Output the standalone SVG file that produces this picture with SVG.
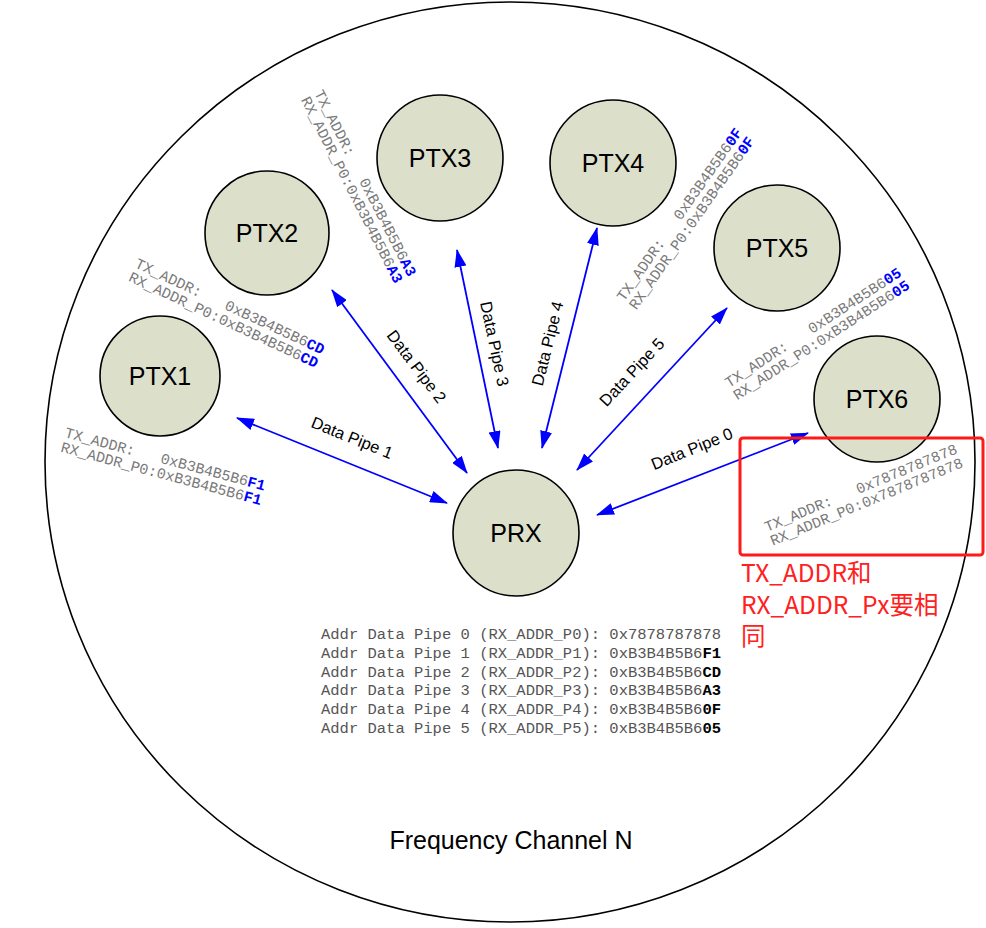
<svg xmlns="http://www.w3.org/2000/svg" width="986" height="928" viewBox="0 0 986 928">
<defs>
<style>
.node{fill:#dcdfca;stroke:#000;stroke-width:1.6}
.nl{font-family:"Liberation Sans",Arial,sans-serif;font-size:25px;text-anchor:middle;fill:#000}
.conn{stroke:#0000ff;stroke-width:1.8;fill:none;marker-start:url(#ah);marker-end:url(#ah)}
.pl{font-family:"Liberation Sans",Arial,sans-serif;font-size:16.5px;text-anchor:middle;fill:#000}
.ad{font-family:"Liberation Mono","Courier New",monospace;font-size:15px;fill:#7a7a7a}
.bl{fill:#0000ff;font-weight:bold}
.tb{font-family:"Liberation Mono","Courier New",monospace;font-size:15.5px;fill:#555}
.bk{fill:#000;font-weight:bold}
</style>
<marker id="ah" viewBox="0 0 18 12" refX="17" refY="6" markerWidth="18" markerHeight="12" markerUnits="userSpaceOnUse" orient="auto-start-reverse">
<path d="M0,0 L18,6 L0,12 z" fill="#0000ff"/>
</marker>
</defs>
<rect width="986" height="928" fill="#fff"/>
<ellipse cx="510" cy="462" rx="465" ry="460" fill="none" stroke="#000" stroke-width="1.6"/>
<g id="connectors">
<line class="conn" x1="237" y1="418" x2="447" y2="503"/>
<line class="conn" x1="332" y1="290" x2="467" y2="473"/>
<line class="conn" x1="457" y1="250" x2="498" y2="448"/>
<line class="conn" x1="597" y1="228" x2="542" y2="448"/>
<line class="conn" x1="727" y1="308" x2="577" y2="470"/>
<line class="conn" x1="808" y1="433" x2="597" y2="515"/>
<text class="pl" transform="translate(350,443) rotate(22)">Data Pipe 1</text>
<text class="pl" transform="translate(412,370) rotate(53)">Data Pipe 2</text>
<text class="pl" transform="translate(489,345) rotate(78)">Data Pipe 3</text>
<text class="pl" transform="translate(553,345) rotate(-76)">Data Pipe 4</text>
<text class="pl" transform="translate(636,376) rotate(-47)">Data Pipe 5</text>
<text class="pl" transform="translate(694,454) rotate(-22)">Data Pipe 0</text>
</g>
<g id="ptx1"><circle class="node" cx="160" cy="376" r="60"/><text class="nl" x="160" y="385">PTX1</text>
<text class="ad" xml:space="preserve" transform="translate(64,437) rotate(15)"><tspan x="0" y="0">TX_ADDR:   0xB3B4B5B6<tspan class="bl">F1</tspan></tspan><tspan x="0" y="15">RX_ADDR_P0:0xB3B4B5B6<tspan class="bl">F1</tspan></tspan></text></g>
<g id="ptx2"><circle class="node" cx="267" cy="233" r="62"/><text class="nl" x="267" y="242">PTX2</text>
<text class="ad" xml:space="preserve" transform="translate(134,267) rotate(25)"><tspan x="0" y="0">TX_ADDR:   0xB3B4B5B6<tspan class="bl">CD</tspan></tspan><tspan x="0" y="15">RX_ADDR_P0:0xB3B4B5B6<tspan class="bl">CD</tspan></tspan></text></g>
<g id="ptx3"><circle class="node" cx="440" cy="158" r="63"/><text class="nl" x="440" y="167">PTX3</text>
<text class="ad" xml:space="preserve" transform="translate(314,93) rotate(63)"><tspan x="0" y="0">TX_ADDR:   0xB3B4B5B6<tspan class="bl">A3</tspan></tspan><tspan x="0" y="15">RX_ADDR_P0:0xB3B4B5B6<tspan class="bl">A3</tspan></tspan></text></g>
<g id="ptx4"><circle class="node" cx="613" cy="163" r="63"/><text class="nl" x="613" y="172">PTX4</text>
<text class="ad" xml:space="preserve" transform="translate(624,302) rotate(-55)"><tspan x="0" y="0">TX_ADDR:   0xB3B4B5B6<tspan class="bl">0F</tspan></tspan><tspan x="0" y="15">RX_ADDR_P0:0xB3B4B5B6<tspan class="bl">0F</tspan></tspan></text></g>
<g id="ptx5"><circle class="node" cx="777" cy="248" r="63"/><text class="nl" x="777" y="257">PTX5</text>
<text class="ad" xml:space="preserve" transform="translate(729,388) rotate(-33)"><tspan x="0" y="0">TX_ADDR:   0xB3B4B5B6<tspan class="bl">05</tspan></tspan><tspan x="0" y="15">RX_ADDR_P0:0xB3B4B5B6<tspan class="bl">05</tspan></tspan></text></g>
<g id="ptx6"><circle class="node" cx="877" cy="399" r="63"/><text class="nl" x="877" y="408">PTX6</text>
<text class="ad" xml:space="preserve" transform="translate(767,532) rotate(-22.5)"><tspan x="0" y="0">TX_ADDR:   0x7878787878</tspan><tspan x="0" y="15">RX_ADDR_P0:0x7878787878</tspan></text></g>
<g id="prx"><circle class="node" cx="516" cy="533" r="63"/><text class="nl" x="516" y="542">PRX</text></g>
<g id="table">
<text class="tb" xml:space="preserve"><tspan x="321" y="639">Addr Data Pipe 0 (RX_ADDR_P0): 0x7878787878</tspan><tspan x="321" y="658">Addr Data Pipe 1 (RX_ADDR_P1): 0xB3B4B5B6<tspan class="bk">F1</tspan></tspan><tspan x="321" y="677">Addr Data Pipe 2 (RX_ADDR_P2): 0xB3B4B5B6<tspan class="bk">CD</tspan></tspan><tspan x="321" y="695">Addr Data Pipe 3 (RX_ADDR_P3): 0xB3B4B5B6<tspan class="bk">A3</tspan></tspan><tspan x="321" y="714">Addr Data Pipe 4 (RX_ADDR_P4): 0xB3B4B5B6<tspan class="bk">0F</tspan></tspan><tspan x="321" y="733">Addr Data Pipe 5 (RX_ADDR_P5): 0xB3B4B5B6<tspan class="bk">05</tspan></tspan></text>
</g>
<text class="nl" x="511" y="849" font-size="26">Frequency Channel N</text>
<g id="note">
<rect x="740" y="438" width="243" height="117" rx="3" fill="none" stroke="#ff1a1a" stroke-width="3"/>
<text font-family="'Noto Sans CJK SC',sans-serif" font-size="24.5" fill="#ff2020"><tspan x="741" y="582">TX_ADDR和</tspan><tspan x="741" y="614">RX_ADDR_Px要相</tspan><tspan x="741" y="645">同</tspan></text>
</g>
</svg>
